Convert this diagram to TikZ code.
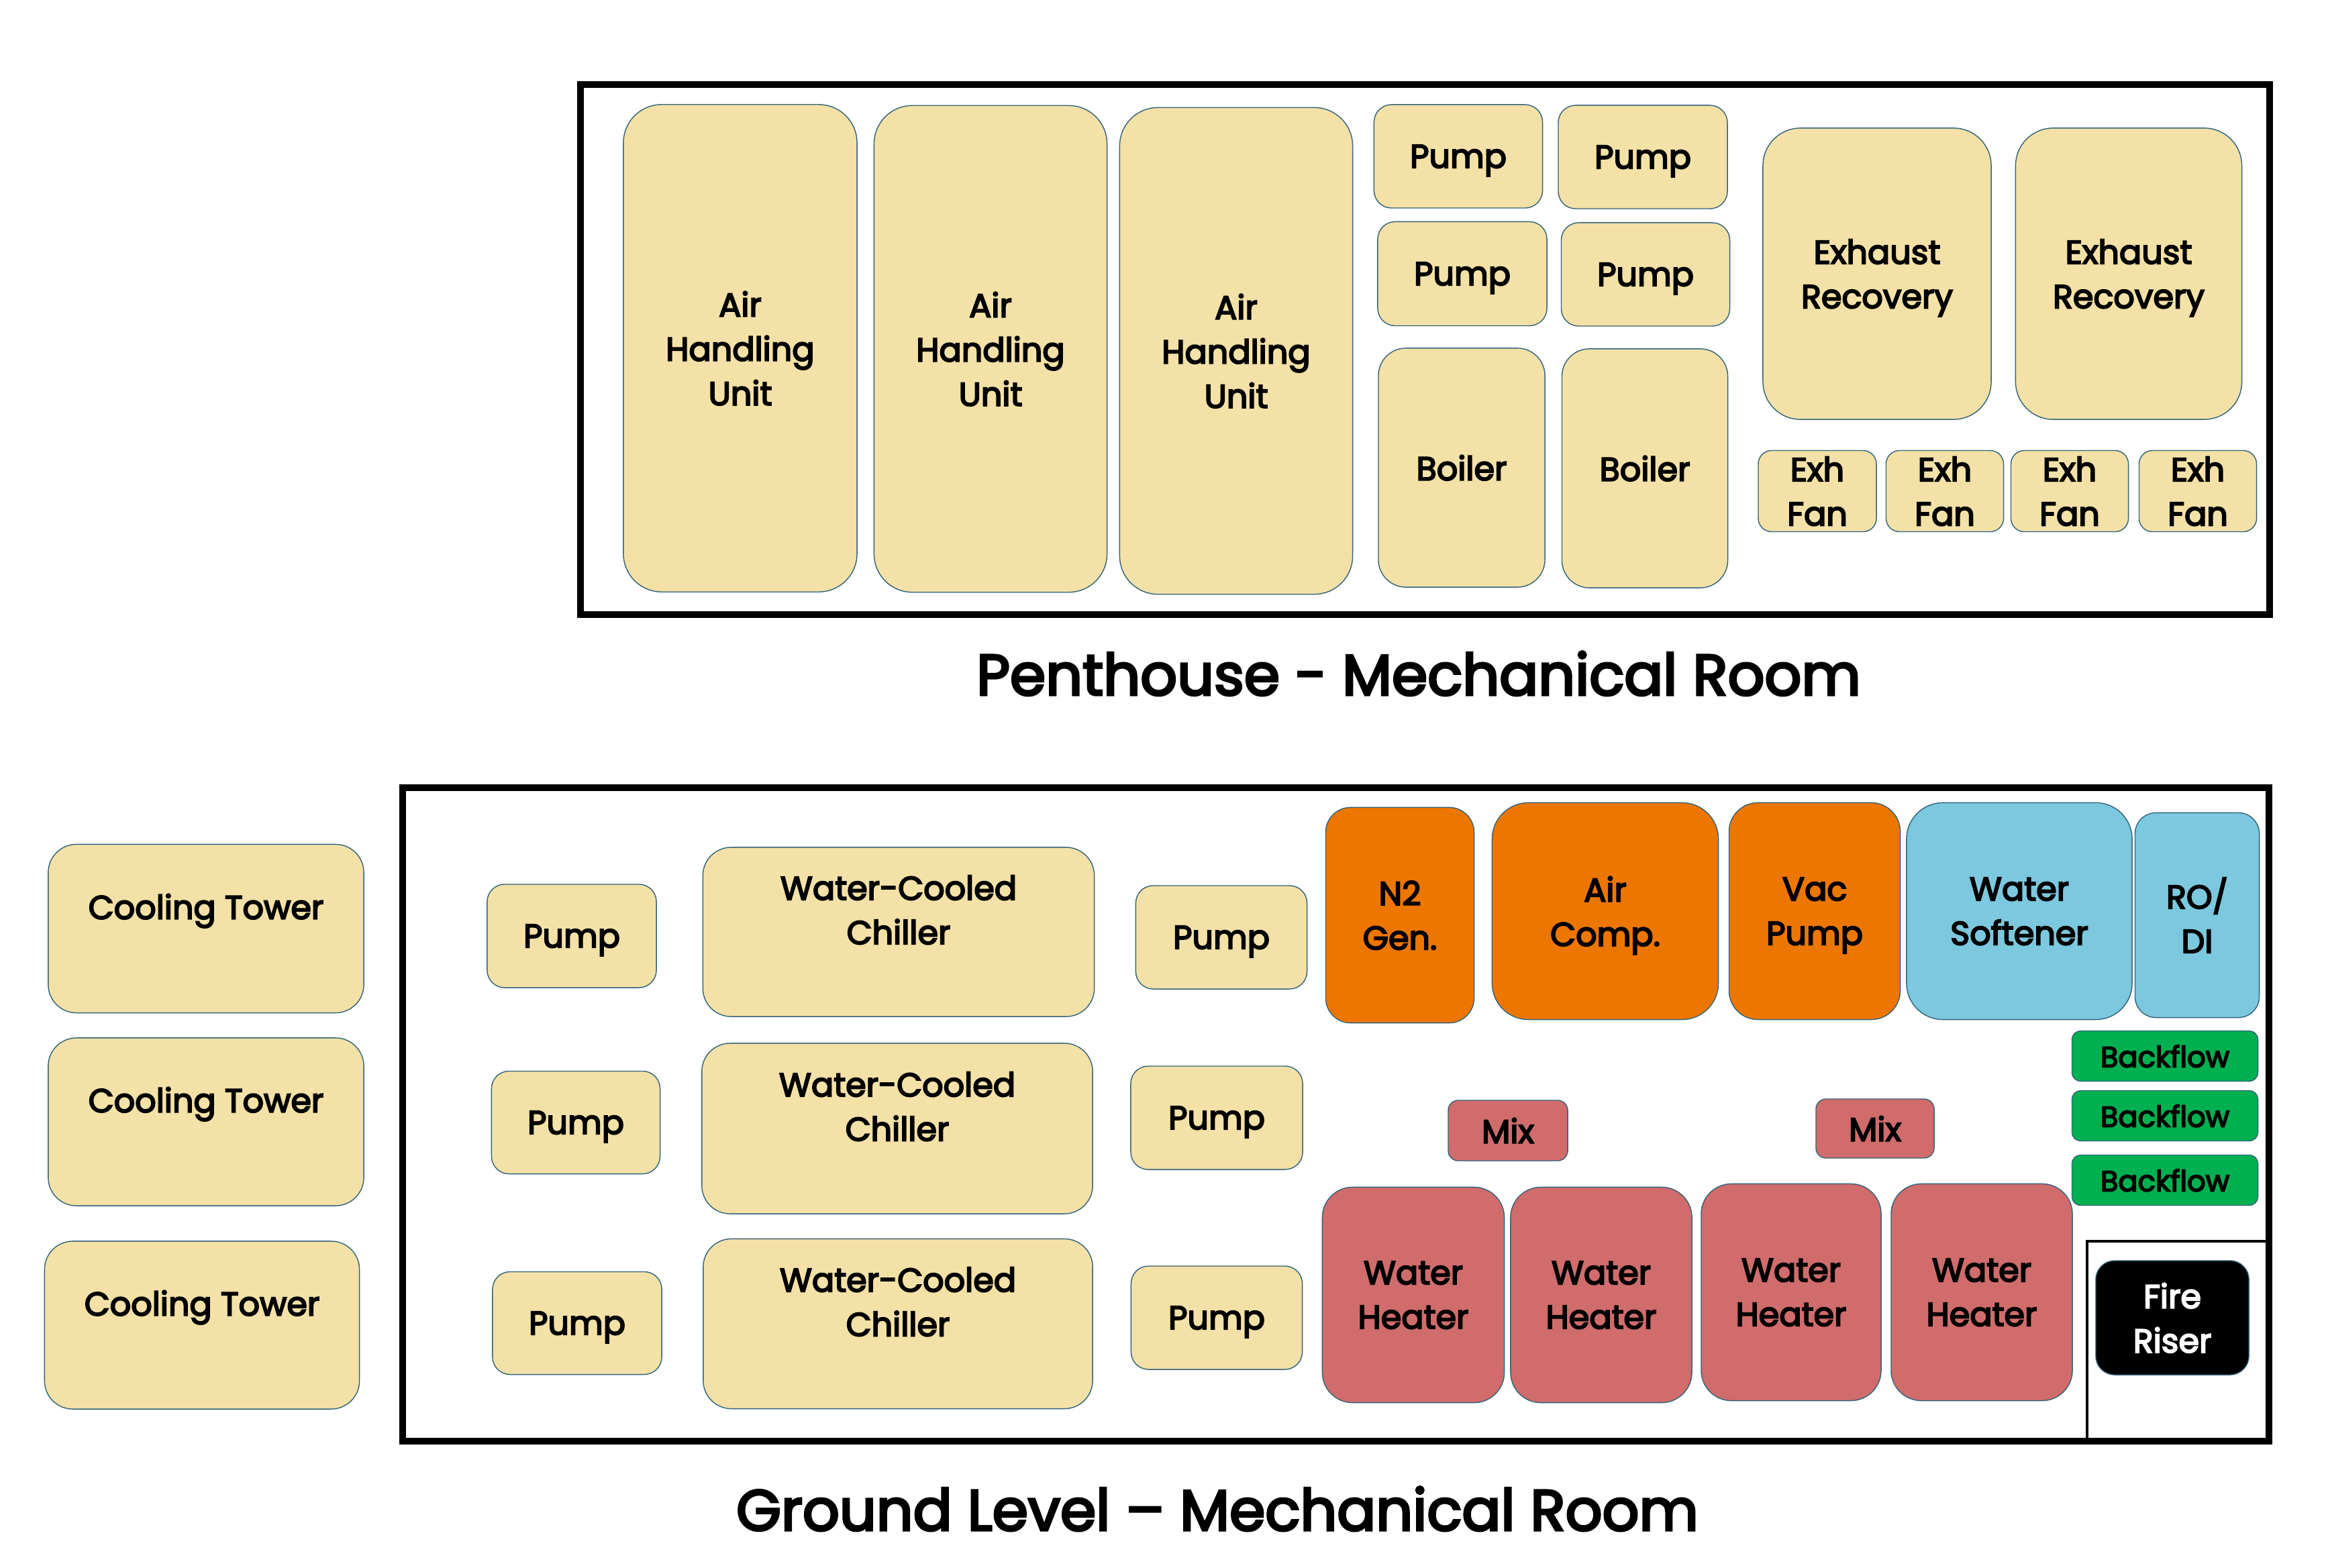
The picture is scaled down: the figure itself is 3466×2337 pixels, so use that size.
\documentclass[tikz,border=0pt]{standalone}
\usepackage{fontspec}
\setmainfont{Poppins}
\newfontfamily\boxfam{Poppins}[FakeBold=4]
\newfontfamily\ttlfam{Poppins}[FakeBold=4]
\definecolor{tanc}{RGB}{243,225,167}
\definecolor{outl}{RGB}{49,98,122}
\definecolor{orng}{RGB}{237,118,0}
\definecolor{bluec}{RGB}{124,200,222}
\definecolor{grn}{RGB}{0,176,80}
\definecolor{rose}{RGB}{208,108,108}
\newcommand\eqf{\boxfam\fontsize{14}{18.8}\selectfont}
\newcommand\bff{\boxfam\fontsize{12.3}{15}\selectfont}
\newcommand\ttlf{\ttlfam\fontsize{24.4}{30}\selectfont}
\tikzset{
  eq/.style={draw=outl, line width=0.4pt, inner sep=0pt, align=center, font=\eqf, text=black, text depth=0pt},
  tanbox/.style={eq, fill=tanc},
  orbox/.style={eq, fill=orng},
  blbox/.style={eq, fill=bluec},
  gnbox/.style={eq, fill=grn, font=\bff},
  rsbox/.style={eq, fill=rose},
  bkbox/.style={eq, fill=black, text=white},
  room/.style={draw=black, line width=2.85pt},
  wallline/.style={draw=black, line width=1.1pt},
  ttl/.style={font=\ttlf, inner sep=0pt, anchor=base},
  sz/.style n args={3}{minimum width=#1cm, minimum height=#2cm, rounded corners=#3cm},
  lbl/.style={font=\eqf, align=center, inner sep=0pt, text depth=0pt}
}
\begin{document}
\begin{tikzpicture}[x=0.01cm, y=-0.01cm]
\useasboundingbox[fill=white] (0,0) rectangle (3466,2337);

% ---------------- Penthouse ----------------
\draw[room] (865,126) rectangle (3382,916);
\node[tanbox, sz={3.48}{7.26}{0.57}] (ahu1) at (1103,519) {Air\\Handling\\Unit};
\node[tanbox, sz={3.47}{7.25}{0.57}] (ahu2) at (1476,520) {Air\\Handling\\Unit};
\node[tanbox, sz={3.47}{7.25}{0.57}] (ahu3) at (1842,523) {Air\\Handling\\Unit};
\node[tanbox, sz={2.51}{1.54}{0.26}] (pmp1) at (2173,233) {Pump};
\node[tanbox, sz={2.52}{1.54}{0.26}] (pmp2) at (2448,234) {Pump};
\node[tanbox, sz={2.52}{1.55}{0.26}] (pmp3) at (2179,408) {Pump};
\node[tanbox, sz={2.51}{1.54}{0.26}] (pmp4) at (2452,409) {Pump};
\node[tanbox, sz={2.48}{3.56}{0.41}] (blr1) at (2178,697) {Boiler};
\node[tanbox, sz={2.47}{3.56}{0.41}] (blr2) at (2451,698) {Boiler};
\node[tanbox, sz={3.40}{4.34}{0.56}] (erc1) at (2797,408) {Exhaust\\Recovery};
\node[tanbox, sz={3.37}{4.34}{0.56}] (erc2) at (3172,408) {Exhaust\\Recovery};
\node[tanbox, sz={1.76}{1.21}{0.20}] (efan1) at (2708,732) {Exh\\Fan};
\node[tanbox, sz={1.75}{1.21}{0.20}] (efan2) at (2898,732) {Exh\\Fan};
\node[tanbox, sz={1.75}{1.21}{0.20}] (efan3) at (3084,732) {Exh\\Fan};
\node[tanbox, sz={1.75}{1.21}{0.20}] (efan4) at (3275,732) {Exh\\Fan};
\node[ttl] (pttl) at (2114,1036) {Penthouse - Mechanical Room};

% ---------------- Ground level ----------------
\draw[room] (600,1174) rectangle (3381,2148);
\draw[wallline] (3110,2148) -- (3110,1850) -- (3381,1850);

\node[tanbox, sz={4.70}{2.51}{0.42}] (ct1) at (307,1384) {};
\node[lbl] (ct1t) at ([yshift=0.33cm]ct1.center) {Cooling Tower};
\node[tanbox, sz={4.70}{2.50}{0.42}] (ct2) at (307,1672) {};
\node[lbl] (ct2t) at ([yshift=0.33cm]ct2.center) {Cooling Tower};
\node[tanbox, sz={4.69}{2.50}{0.42}] (ct3) at (301,1975) {};
\node[lbl] (ct3t) at ([yshift=0.33cm]ct3.center) {Cooling Tower};

\node[tanbox, sz={2.52}{1.54}{0.26}] (gpl1) at (852,1395) {Pump};
\node[tanbox, sz={2.51}{1.53}{0.26}] (gpl2) at (858,1673) {Pump};
\node[tanbox, sz={2.52}{1.53}{0.26}] (gpl3) at (860,1972) {Pump};

\node[tanbox, sz={5.83}{2.52}{0.42}] (wcc1) at (1339,1389) {};
\node[lbl] (wcc1t) at ([yshift=0.33cm]wcc1.center) {Water-Cooled\\Chiller};
\node[tanbox, sz={5.82}{2.54}{0.42}] (wcc2) at (1337,1682) {};
\node[lbl] (wcc2t) at ([yshift=0.33cm]wcc2.center) {Water-Cooled\\Chiller};
\node[tanbox, sz={5.80}{2.53}{0.42}] (wcc3) at (1338,1973) {};
\node[lbl] (wcc3t) at ([yshift=0.33cm]wcc3.center) {Water-Cooled\\Chiller};

\node[tanbox, sz={2.55}{1.54}{0.26}] (gpr1) at (1820,1397) {Pump};
\node[tanbox, sz={2.56}{1.54}{0.26}] (gpr2) at (1813,1666) {Pump};
\node[tanbox, sz={2.55}{1.54}{0.26}] (gpr3) at (1813,1964) {Pump};

\node[orbox, sz={2.21}{3.21}{0.37}] (n2) at (2086,1364) {N2\\Gen.};
\node[orbox, sz={3.37}{3.23}{0.54}] (acomp) at (2392,1358) {Air\\Comp.};
\node[orbox, sz={2.55}{3.23}{0.43}] (vac) at (2704,1358) {Vac\\Pump};
\node[blbox, sz={3.36}{3.23}{0.54}] (wsoft) at (3009,1358) {Water\\Softener};
\node[blbox, sz={1.85}{3.05}{0.31}] (rodi) at (3274,1364) {RO/\\DI};

\node[gnbox, sz={2.77}{0.75}{0.13}] (bf1) at (3226,1574) {Backflow};
\node[gnbox, sz={2.77}{0.75}{0.13}] (bf2) at (3226,1663) {Backflow};
\node[gnbox, sz={2.77}{0.75}{0.13}] (bf3) at (3226,1759) {Backflow};

\node[rsbox, sz={1.78}{0.90}{0.15}] (mix1) at (2247,1685) {Mix};
\node[rsbox, sz={1.76}{0.88}{0.15}] (mix2) at (2794,1682) {Mix};

\node[rsbox, sz={2.71}{3.21}{0.45}] (wh1) at (2106,1930) {Water\\Heater};
\node[rsbox, sz={2.70}{3.21}{0.45}] (wh2) at (2386,1930) {Water\\Heater};
\node[rsbox, sz={2.68}{3.23}{0.45}] (wh3) at (2669,1926) {Water\\Heater};
\node[rsbox, sz={2.70}{3.23}{0.45}] (wh4) at (2953,1926) {Water\\Heater};

\node[bkbox, sz={2.28}{1.70}{0.28}] (fire) at (3237,1964) {Fire\\Riser};

\node[ttl] (gttl) at (1814,2281) {Ground Level – Mechanical Room};
\end{tikzpicture}
\end{document}
